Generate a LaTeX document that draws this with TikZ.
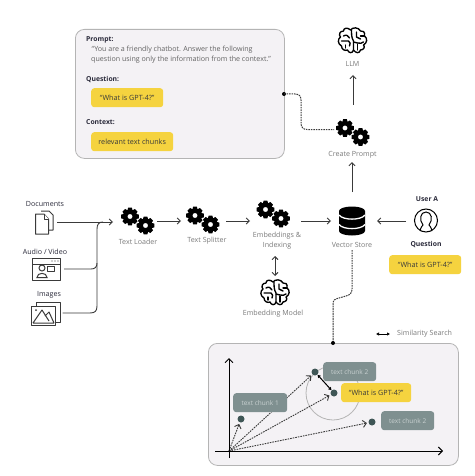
\documentclass[tikz,border=0pt]{standalone}
\usepackage{fontspec}
\setmainfont{Open Sans}
\usetikzlibrary{arrows.meta}
\definecolor{panel}{HTML}{F4F2F5}
\definecolor{panelline}{HTML}{B4B4B4}
\definecolor{hl}{HTML}{F5D33F}
\definecolor{chunk}{HTML}{7F9090}
\definecolor{chunktext}{HTML}{C8D0D0}
\definecolor{dotc}{HTML}{3F5656}
\definecolor{lab}{HTML}{7A7A7A}
\definecolor{ink}{HTML}{3A3A3A}
\definecolor{head}{HTML}{2A2A3A}
\newcommand{\gearshape}[3]{% x y r
 \begin{scope}[shift={(#1,#2)}]
  \foreach \ang in {0,45,...,315}{
   \fill[black] ({\ang-12}:#3*1.05) -- ({\ang+12}:#3*1.05) -- ({\ang+24}:#3*0.75) -- ({\ang-24}:#3*0.75) -- cycle;
  }
  \fill[black,even odd rule] (0,0) circle[radius=#3*0.8] (0,0) circle[radius=#3*0.3];
 \end{scope}}
\newcommand{\gears}[2]{%
 \begin{scope}[shift={(#1,#2)}]
  \gearshape{0}{0}{8.6}\gearshape{15.5}{9}{8.6}
 \end{scope}}
\newcommand{\brain}[2]{%
 \begin{scope}[shift={(#1,#2)},line width=1.35pt,line join=round,line cap=round]
  \draw (-2,-11) .. controls (-5,-14) and (-9,-13) .. (-9,-10)
        .. controls (-13,-10) and (-14,-6) .. (-12,-4)
        .. controls (-15,-2) and (-15,3) .. (-11,5)
        .. controls (-11,9) and (-7,10) .. (-5,9)
        .. controls (-4,12) and (0,13) .. (1,9)
        .. controls (3,12) and (7,13) .. (8,9)
        .. controls (11,9) and (13,6) .. (11,4)
        .. controls (15,2) and (15,-3) .. (12,-5)
        .. controls (13,-9) and (10,-11) .. (8,-10)
        .. controls (6,-14) and (0,-14) .. (-2,-11);
  \draw (-1,-11) .. controls (-1,-7) and (-1,-3) .. (1,0) -- (1,9);
  \draw (-9,-5) .. controls (-6,-7) and (-4,-5) .. (-3,-3);
  \draw (-11,0) -- (-4,0) .. controls (-2,1) and (-2,3) .. (-3,5);
  \draw (-7,4) -- (-7,7);
  \draw (4,-9) -- (4,-4) -- (8,-2);
  \draw (12,-5) -- (8,-5);
  \draw (1,1) -- (5,2) .. controls (8,3) and (9,2) .. (11,1);
  \draw (5,3) -- (5,9);
 \end{scope}}
\tikzset{
  lbl/.style={text=lab,font=\fontsize{7.1}{10}\selectfont,inner sep=0pt,align=center},
  hd/.style={text=head,font=\fontsize{6.8}{10}\selectfont\bfseries,inner sep=0pt},
  src/.style={text=#1,font=\fontsize{7.1}{10}\selectfont,inner sep=0pt},
  src/.default=head,
  flow/.style={draw=ink,line width=0.9pt,-{Straight Barb[length=3.2pt,width=6pt]}},
  plain/.style={draw=ink,line width=0.9pt},
  dashline/.style={draw=ink,line width=1pt,dash pattern=on 1.6pt off 0.9pt},
  yel/.style={fill=hl,rounded corners=3pt,inner sep=0pt,text=ink,font=\fontsize{7.2}{10}\selectfont},
  chunkbox/.style={fill=chunk,rounded corners=3pt,inner sep=0pt,text=chunktext,font=\fontsize{6.5}{10}\selectfont},
  panelbox/.style={fill=panel,draw=panelline,line width=0.8pt,rounded corners=9pt,inner sep=0pt},
  icon/.style={draw=ink,line width=1pt,line join=round,fill=white},
  dot/.style={circle,fill=dotc,minimum size=7pt,inner sep=0pt},
  vec/.style={draw=ink,line width=0.9pt,dash pattern=on 1.6pt off 1pt,shorten >=1.5pt,-{Straight Barb[length=3.5pt,width=7pt]}}
}
\begin{document}
\begin{tikzpicture}[x=1pt,y=-1pt]
\useasboundingbox (0,0) rectangle (474,476);
\fill[white] (0,0) rectangle (474,476);

% prompt panel
\node[panelbox,minimum width=209pt,minimum height=129pt,anchor=north west] (prompt) at (75,29) {};
\node[hd,anchor=west] (tp) at (86,39.5) {Prompt:};
\node[src=lab!80!black,anchor=west] (t1) at (91.5,50) {“You are a friendly chatbot. Answer the following};
\node[src=lab!80!black,anchor=west] (t2) at (91,60) {question using only the information from the context.”};
\node[hd,anchor=west] (tq) at (86,79) {Question:};
\node[yel,minimum width=72pt,minimum height=19pt,anchor=north west] (yq) at (91,88) {“What is GPT-4?”};
\node[hd,anchor=west] (tc) at (86,122) {Context:};
\node[yel,minimum width=82pt,minimum height=19pt,anchor=north west] (yc) at (91,132) {relevant text chunks};

% top right
\coordinate (pdot) at (284,94);
\fill[black] (pdot) circle[radius=2pt];
\coordinate (cpg) at (334,129.5);
\draw[dashline] (pdot) -- (295,94) .. controls (299,94) and (301,96) .. (301,100) -- (301,123) .. controls (301,127) and (303,129.5) .. (307,129.5) -- (cpg);
\gears{345}{128}
\node[lbl] (cp) at (352.5,155) {Create Prompt};
\brain{352.5}{41}
\node[lbl] (llm) at (352.5,64) {LLM};
\coordinate (a1) at (353,105);
\draw[flow] (a1) -- (353,75);

% sources
\node[src] (ldoc) at (45,204) {Documents};
\node[src] (lav) at (45,251.5) {Audio / Video};
\node[src] (limg) at (49,295) {Images};
\draw[icon] (41,211) -- (49,211) -- (53,215) -- (53,230) -- (47,230);
\draw[icon] (35.5,214) -- (44,214) -- (48.5,219) -- (48.5,234) -- (35.5,234) -- cycle;
\draw[icon] (44,214) -- (44,219) -- (48.5,219);
\draw[icon] (32,258) rectangle (60.5,280);
\draw[icon] (32,264.5) -- (60.5,264.5);
\foreach \q in {52,55,58}{\fill[ink] (\q,261) circle[radius=0.7pt];}
\draw[ink,line width=1pt] (42,268) circle[radius=3pt];
\draw[ink,line width=1pt] (37,277.5) .. controls (37,272) and (47,272) .. (47,277.5) -- cycle;
\draw[icon,fill=none] (47,266) rectangle (54.5,271.5);
\draw[icon] (36,302.5) rectangle (60.5,322);
\draw[icon] (31,306) rectangle (55,325.5);
\fill[ink] (36,310) circle[radius=1pt];
\draw[ink,line width=1pt,line join=round] (33,323) -- (42,310) -- (49,321) (45,316) -- (49,312) -- (54,323) (33,323) -- (54,323);

\coordinate (sdoc) at (57,222);
\coordinate (sav) at (64,269);
\coordinate (simg) at (62.5,313);
\coordinate (tl) at (113,222);
\draw[flow] (sdoc) -- (tl);
\draw[plain] (sav) -- (91,269) .. controls (95,269) and (97,267) .. (97,263) -- (97,229) .. controls (97,224) and (99,222) .. (103,222);
\draw[plain] (simg) -- (90,313) .. controls (95,313) and (97,311) .. (97,306) -- (97,263);

% pipeline
\gears{130}{216.5}
\node[lbl] (ltl) at (138,242) {Text Loader};
\draw[flow] (157,221) -- (181,221);
\gears{195}{215.5}
\node[lbl] (lts) at (207,241) {Text Splitter};
\draw[flow] (226,221) -- (250,221);
\gears{265.5}{209.5}
\node[lbl] (lei) at (277,241) {Embeddings \&\\Indexing};
\draw[draw=ink,line width=0.9pt,{Straight Barb[length=3pt,width=6pt]}-{Straight Barb[length=3pt,width=6pt]}] (275,256) -- (275,276);
\brain{275}{293}
\node[lbl] (lem) at (273,314) {Embedding Model};
\draw[flow] (301,221) -- (331,221);

% database
\fill[black] (339,211) arc[start angle=180,end angle=0,x radius=13,y radius=-4.5] -- (365,231) arc[start angle=0,end angle=180,x radius=13,y radius=4.5] -- cycle;
\draw[white,line width=1.3pt] (339,215) .. controls (343,220.5) and (361,220.5) .. (365,215);
\draw[white,line width=1.3pt] (339,224.5) .. controls (343,230) and (361,230) .. (365,224.5);
\node[lbl] (lvs) at (352,245) {Vector Store};
\draw[flow] (352,192) -- (352,162);

% user
\node[hd] (ua) at (427,199) {User A};
\draw[black,line width=1pt] (426,220.5) circle[radius=11.5];
\draw[black,line width=1pt] (420,231) .. controls (421,227) and (422,226) .. (423,225) .. controls (419,220) and (420,212) .. (426,212) .. controls (432,212) and (433,220) .. (429,225) .. controls (430,226) and (431,227) .. (432,231);
\node[hd] (uq) at (426,244) {Question};
\node[yel,minimum width=72pt,minimum height=19pt,anchor=north west] (yu) at (389,255) {“What is GPT-4?”};
\draw[flow] (406,221) -- (377,221);

% dashed to panel
\coordinate (spanel) at (333,343);
\draw[dashline] (352,250) -- (352,289) .. controls (352,293) and (350,295) .. (346,296) -- (339,298) .. controls (335,299) and (333,300) .. (333,304) -- (spanel);

% legend
\draw[draw=black,line width=0.9pt,{Latex[length=3pt,width=3.5pt]}-{Latex[length=3pt,width=3.5pt]}] (376,334) -- (390,334);
\node[lbl,anchor=west] (lss) at (397,334) {Similarity Search};

% similarity panel
\node[panelbox,minimum width=250pt,minimum height=122pt,anchor=north west] (sim) at (208,343) {};
\fill[black] (spanel) circle[radius=2pt];
\coordinate (o) at (229,451);
\draw[panelline,line width=0.8pt] (333,393) circle[radius=27];
\node[dot] (d1) at (241,419) {};
\node[dot] (d2) at (315,372) {};
\node[dot] (d3) at (334,393) {};
\node[dot] (d4) at (372,422) {};
\draw[vec] (o) -- (d1);
\draw[vec] (o) -- (d2);
\draw[vec] (o) -- (d3);
\draw[vec] (o) -- (d4);
\draw[black,line width=1pt,-{Straight Barb[length=4pt,width=8pt]}] (229,458) -- (229,358);
\draw[black,line width=1pt,-{Straight Barb[length=4pt,width=8pt]}] (215,451) -- (443,451);
\draw[black,line width=1pt,{Latex[length=3pt,width=4pt]}-{Latex[length=3pt,width=4pt]}] (d2) -- (d3);
\node[chunkbox,minimum width=54pt,minimum height=19pt,anchor=north west] (c1) at (233,393) {text chunk 1};
\node[chunkbox,minimum width=53pt,minimum height=19pt,anchor=north west] (c2) at (323,362) {text chunk 2};
\node[yel,minimum width=70pt,minimum height=19pt,anchor=north west] (yy) at (341,383) {“What is GPT-4?”};
\node[chunkbox,minimum width=53pt,minimum height=19pt,anchor=north west] (c3) at (381,411) {text chunk 2};
\end{tikzpicture}
\end{document}
